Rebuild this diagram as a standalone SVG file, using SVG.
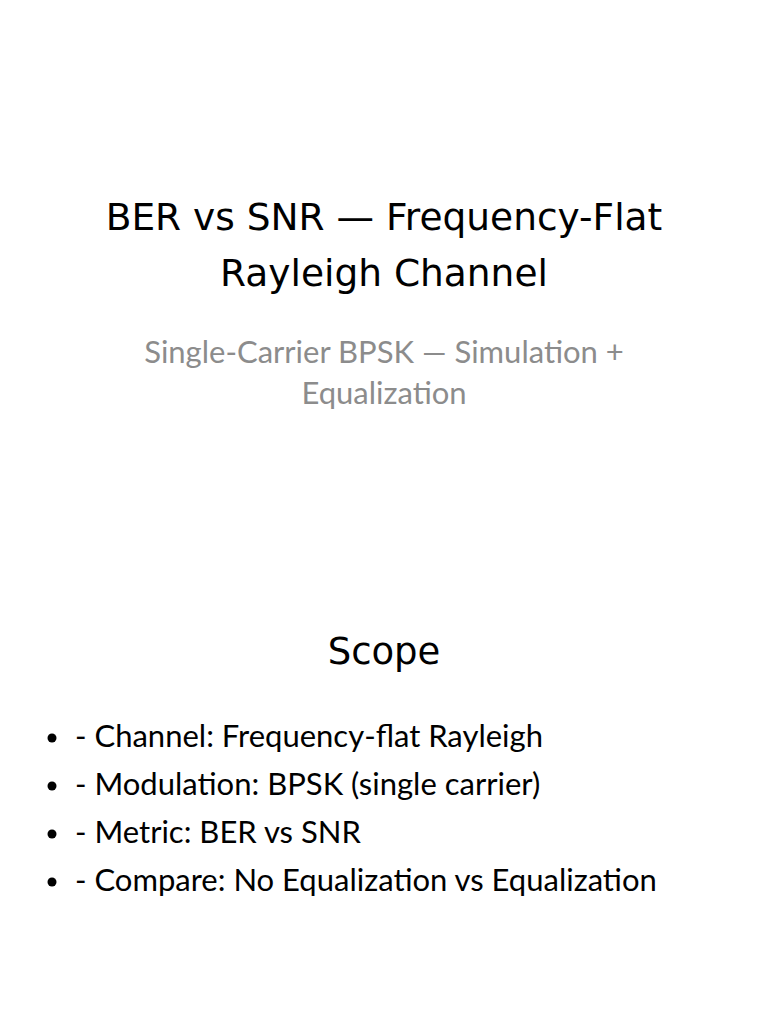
<svg xmlns="http://www.w3.org/2000/svg" width="768" height="1024" viewBox="0 0 768 1024">
<style>
.t{font-family:"DejaVu Sans",sans-serif;fill:#000;text-anchor:middle}
.s{font-family:Lato,"Open Sans",sans-serif;fill:#8c8c8c;font-size:31px;text-anchor:middle}
.b{font-family:Lato,"Open Sans",sans-serif;fill:#000;font-size:31px}
</style>
<rect width="768" height="1024" fill="#fff"/>
<text class="t" x="384" y="230" font-size="37.5">BER vs SNR — Frequency-Flat</text>
<text class="t" x="384" y="286" font-size="37.5">Rayleigh Channel</text>
<text class="s" x="384" y="363">Single-Carrier BPSK — Simulation +</text>
<text class="s" x="384" y="404">Equalization</text>
<text class="t" x="384" y="664" font-size="37">Scope</text>
<g class="b">
<circle cx="52" cy="738" r="4.5"/><text x="75" y="747">- Channel: Frequency-flat Rayleigh</text>
<circle cx="52" cy="786" r="4.5"/><text x="75" y="795">- Modulation: BPSK (single carrier)</text>
<circle cx="52" cy="834" r="4.5"/><text x="75" y="843">- Metric: BER vs SNR</text>
<circle cx="52" cy="882" r="4.5"/><text x="75" y="891">- Compare: No Equalization vs Equalization</text>
</g>
</svg>
